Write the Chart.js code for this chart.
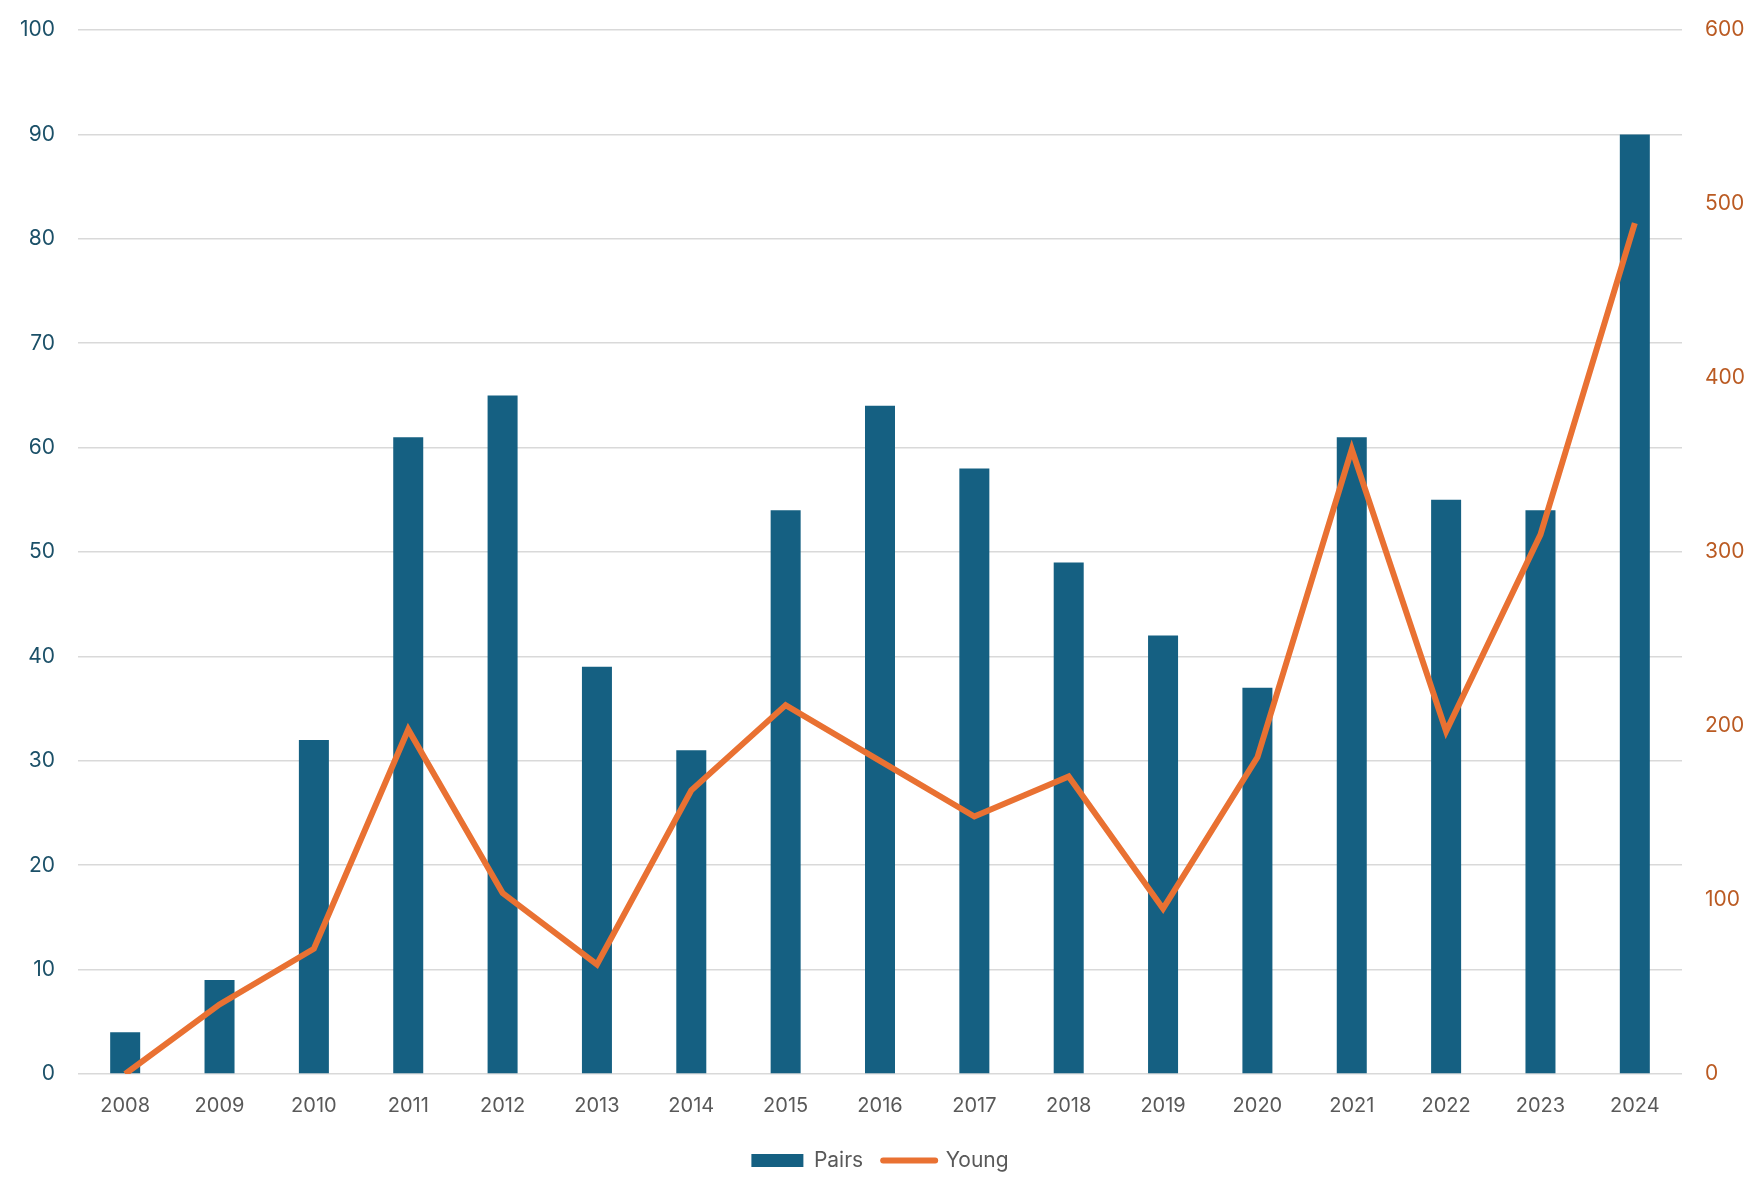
<!DOCTYPE html>
<html>
<head>
<meta charset="utf-8">
<script src="https://cdn.jsdelivr.net/npm/chart.js@4.4.1/dist/chart.umd.min.js"></script>
<style>
  html, body { margin: 0; padding: 0; background: #fff; }
  canvas { display: block; }
</style>
</head>
<body>
<canvas id="chartPairs" width="1760" height="1198"></canvas>
<script>
// data
const years = ['2008', '2009', '2010', '2011', '2012', '2013', '2014', '2015', '2016',
               '2017', '2018', '2019', '2020', '2021', '2022', '2023', '2024'];
const pairs = [4, 9, 32, 61, 65, 39, 31, 54, 64, 58, 49, 42, 37, 61, 55, 54, 90];
const young = [0, 40, 72, 198, 104, 63, 163, 212, 180, 148, 171, 95, 182, 359, 197, 310, 489];

const FONT = 'Inter, "Liberation Sans", sans-serif';
const BLUE = '#156082';
const ORANGE = '#E97132';

// fixed side width, and no extra room above for the top label
function fitSide(s) { s.width = 78; s.paddingTop = 0; }

function initPairsChart(ctx) {
  return new Chart(ctx, {
    type: 'bar',
    data: {
      labels: years,
      datasets: [
        { label: 'Pairs', data: pairs, backgroundColor: BLUE, borderWidth: 0,
          barPercentage: 0.318, categoryPercentage: 1, yAxisID: 'y', order: 1 },
        { type: 'line', label: 'Young', data: young, borderColor: ORANGE, backgroundColor: ORANGE,
          borderWidth: 6, pointRadius: 0, tension: 0, fill: false, yAxisID: 'y1', order: 0 }
      ]
    },
    options: {
      responsive: false,
      animation: false,
      devicePixelRatio: 1,
      layout: { padding: { top: 30, bottom: 17, left: 0, right: 0 } },
      plugins: {
        tooltip: { enabled: false },
        legend: {
          position: 'bottom',
          labels: {
            font: { family: FONT, size: 21 },
            color: '#595959',
            usePointStyle: true,
            pointStyleWidth: 52,
            boxHeight: 13,
            padding: 20,
            sort: (a, b) => a.datasetIndex - b.datasetIndex,
            generateLabels: (chart) => {
              const items = Chart.defaults.plugins.legend.labels.generateLabels(chart);
              items.forEach(it => {
                if (it.datasetIndex === 0) { it.pointStyle = 'rect'; it.lineWidth = 0; }
                else { it.pointStyle = 'line'; it.lineWidth = 6; it.lineCap = 'round'; it.strokeStyle = ORANGE; }
              });
              return items;
            }
          }
        }
      },
      scales: {
        x: {
          grid: { display: false },
          border: { display: false },
          ticks: { color: '#595959', font: { family: FONT, size: 20 }, padding: 12, maxRotation: 0 },
          afterFit: (s) => { s.height = 56; }
        },
        y: {
          position: 'left',
          min: 0, max: 100,
          ticks: { stepSize: 10, color: '#1B5068', font: { family: FONT, size: 21 }, padding: 23 },
          grid: { color: '#D9D9D9', lineWidth: 1.5, drawTicks: false },
          border: { display: false },
          afterFit: fitSide
        },
        y1: {
          position: 'right',
          min: 0, max: 600,
          ticks: { stepSize: 100, color: '#BA5A22', font: { family: FONT, size: 21 }, padding: 23 },
          grid: { display: false, drawTicks: false },
          border: { display: false },
          afterFit: fitSide
        }
      }
    }
  });
}

initPairsChart(document.getElementById('chartPairs').getContext('2d'));
</script>
</body>
</html>
